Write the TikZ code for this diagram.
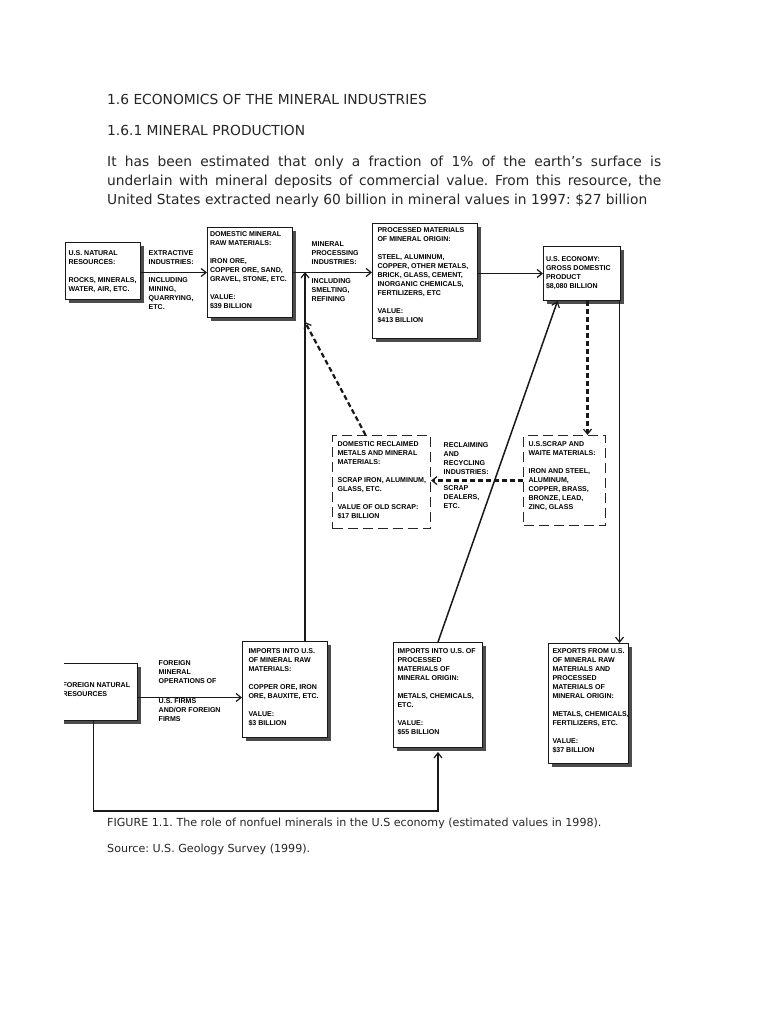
\documentclass[tikz,border=0pt]{standalone}
\usepackage{fontspec}
\setmainfont{DejaVu Sans}
\newfontfamily\dgmf{Liberation Sans}
\usetikzlibrary{arrows.meta,shadows}
\frenchspacing
\newcommand{\dgm}{\dgmf\bfseries\fontsize{7.05}{9}\selectfont}
\newcommand{\R}[1]{\hbox to 0pt{#1\hss}}
\newcommand{\Bl}{\hbox{}}
\newcommand{\tb}[3]{\vtop to #2{\dgm #3\vfil\hbox to #1{}}}
\newcommand{\lb}[1]{\vtop{\dgm #1}}
\tikzset{
  sbox/.style={draw=black!90, line width=1pt, fill=white, anchor=north west,
    drop shadow={shadow xshift=3.5pt, shadow yshift=-3.5pt, fill=black!70, opacity=1}},
  dbox/.style={draw=black!85, line width=1.1pt, fill=white, anchor=north west,
    dash pattern=on 10pt off 5pt},
  lbl/.style={anchor=north west, inner sep=0pt},
  txt/.style={anchor=base west, inner sep=0pt, font=\fontsize{13.8}{16}\selectfont, text=black!85},
  captxt/.style={anchor=base west, inner sep=0pt, font=\fontsize{11.1}{13}\selectfont, text=black!85},
  arr/.style={draw=black!90, line width=1.5pt, -{Straight Barb[length=5pt,width=8pt,line width=1.2pt]}},
  darr/.style={draw=black!90, line width=2.2pt, dash pattern=on 5pt off 3pt,
    -{Straight Barb[length=5pt,width=8pt,line width=1.2pt]}}
}
\begin{document}
\begin{tikzpicture}[x=1pt,y=-1pt]
\fill[white] (0,0) rectangle (768,1024);
\useasboundingbox (0,0) rectangle (768,1024);

% page text
\node[txt] (h1) at (107,105) {1.6 ECONOMICS OF THE MINERAL INDUSTRIES};
\node[txt] (h2) at (107,136) {1.6.1 MINERAL PRODUCTION};
\node[txt] (p1) at (107,167) {\makebox[554pt][s]{It has been estimated that only a fraction of 1\% of the earth’s surface is}};
\node[txt] (p2) at (107,186) {\makebox[554pt][s]{underlain with mineral deposits of commercial value. From this resource, the}};
\node[txt] (p3) at (107,205) {United States extracted nearly 60 billion in mineral values in 1997: \$27 billion};
\node[captxt] (c1) at (107,826) {FIGURE 1.1. The role of nonfuel minerals in the U.S economy (estimated values in 1998).};
\node[captxt] (c2) at (107,852) {Source: U.S. Geology Survey (1999).};

% boxes
\node[sbox, inner xsep=3pt, inner ysep=8.5pt] (usnat) at (65,242)
  {\tb{69pt}{40pt}{\R{U.S. NATURAL}\R{RESOURCES:}\Bl\R{ROCKS, MINERALS,}\R{WATER, AIR, ETC.}}};
\node[sbox, inner xsep=2.5pt, inner ysep=4.5pt] (dom) at (207,227)
  {\tb{80pt}{81pt}{\R{DOMESTIC MINERAL}\R{RAW MATERIALS:}\Bl\R{IRON ORE,}\R{COPPER ORE, SAND,}\R{GRAVEL, STONE, ETC.}\Bl\R{VALUE:}\R{\$39 BILLION}}};
\node[sbox, inner xsep=5pt, inner ysep=4.5pt] (proc) at (372,223)
  {\tb{95pt}{106pt}{\R{PROCESSED MATERIALS}\R{OF MINERAL ORIGIN:}\Bl\R{STEEL, ALUMINUM,}\R{COPPER, OTHER METALS,}\R{BRICK, GLASS, CEMENT,}\R{INORGANIC CHEMICALS,}\R{FERTILIZERS, ETC}\Bl\R{VALUE:}\R{\$413 BILLION}}};
\node[sbox, inner xsep=2.5pt, inner ysep=10.5pt] (gdp) at (543,246)
  {\tb{72pt}{33pt}{\R{U.S. ECONOMY:}\R{GROSS DOMESTIC}\R{PRODUCT}\R{\$8,080 BILLION}}};
\node[dbox, inner xsep=5pt, inner ysep=6.5pt] (recl) at (332,435)
  {\tb{88pt}{80pt}{\R{DOMESTIC RECLAIMED}\R{METALS AND MINERAL}\R{MATERIALS:}\Bl\R{SCRAP IRON, ALUMINUM,}\R{GLASS, ETC.}\Bl\R{VALUE OF OLD SCRAP:}\R{\$17 BILLION}}};
\node[dbox, inner xsep=5pt, inner ysep=6.5pt] (scrap) at (523,435)
  {\tb{72pt}{77pt}{\R{U.S.SCRAP AND}\R{WAITE MATERIALS:}\Bl\R{IRON AND STEEL,}\R{ALUMINUM,}\R{COPPER, BRASS,}\R{BRONZE, LEAD,}\R{ZINC, GLASS}}};
\begin{scope}
\clip (64,650) rectangle (160,740);
\node[sbox, inner xsep=4pt, inner ysep=19.5pt] (foreign) at (58,663)
  {\tb{71pt}{18pt}{\R{FOREIGN NATURAL}\R{RESOURCES}}};
\end{scope}
\node[sbox, inner xsep=6pt, inner ysep=7.5pt] (impraw) at (242,641)
  {\tb{73pt}{81pt}{\R{IMPORTS INTO U.S.}\R{OF MINERAL RAW}\R{MATERIALS:}\Bl\R{COPPER ORE, IRON}\R{ORE, BAUXITE, ETC.}\Bl\R{VALUE:}\R{\$3 BILLION}}};
\node[sbox, inner xsep=4pt, inner ysep=6.5pt] (impproc) at (393,642)
  {\tb{81pt}{92pt}{\R{IMPORTS INTO U.S. OF}\R{PROCESSED}\R{MATERIALS OF}\R{MINERAL ORIGIN:}\Bl\R{METALS, CHEMICALS,}\R{ETC.}\Bl\R{VALUE:}\R{\$55 BILLION}}};
\node[sbox, inner xsep=4pt, inner ysep=5.5pt] (exports) at (548,643)
  {\tb{72pt}{109pt}{\R{EXPORTS FROM U.S.}\R{OF MINERAL RAW}\R{MATERIALS AND}\R{PROCESSED}\R{MATERIALS OF}\R{MINERAL ORIGIN:}\Bl\R{METALS, CHEMICALS,}\R{FERTILIZERS, ETC.}\Bl\R{VALUE:}\R{\$37 BILLION}}};

% connector labels
\node[lbl] (extA) at (148,250.5) {\lb{\R{EXTRACTIVE}\R{INDUSTRIES:}}};
\node[lbl] (extB) at (148,277.5) {\lb{\R{INCLUDING}\R{MINING,}\R{QUARRYING,}\R{ETC.}}};
\node[lbl] (mpA) at (311,241.5) {\lb{\R{MINERAL}\R{PROCESSING}\R{INDUSTRIES:}}};
\node[lbl] (mpB) at (311,278.5) {\lb{\R{INCLUDING}\R{SMELTING,}\R{REFINING}}};
\node[lbl] (rcA) at (443,442.5) {\lb{\R{RECLAIMING}\R{AND}\R{RECYCLING}\R{INDUSTRIES:}}};
\node[lbl] (rcB) at (443,485.5) {\lb{\R{SCRAP}\R{DEALERS,}\R{ETC.}}};
\node[lbl] (fmA) at (158,660.5) {\lb{\R{FOREIGN}\R{MINERAL}\R{OPERATIONS OF}}};
\node[lbl] (fmB) at (158,698.5) {\lb{\R{U.S. FIRMS}\R{AND/OR FOREIGN}\R{FIRMS}}};

% connectors
\coordinate (j1) at (305,272);
\coordinate (j2) at (305,322);
\coordinate (lp) at (0,811);
\draw[arr] (dom.west -| usnat.east) -- (dom.west);
\draw[arr] (dom.east) -- (dom.east -| proc.west);
\draw[arr] (gdp.west -| proc.east) -- (gdp.west);
\draw[arr] (impraw.north -| j1) -- (j1);
\draw[darr] ([xshift=-16pt]recl.north) -- (j2);
\draw[darr] ([xshift=5.5pt]gdp.south) -- ([xshift=5.5pt]gdp.south |- scrap.north);
\draw[arr] ([xshift=-1.5pt]gdp.south east) -- ([xshift=-1.5pt]gdp.south east |- exports.north);
\draw[arr] (impproc.north) -- ([xshift=-24.5pt]gdp.south);
\draw[darr] (scrap.west) -- (scrap.west -| recl.east);
\draw[arr] ([yshift=-5.5pt]foreign.east) -- ([yshift=-5.5pt]foreign.east -| impraw.west);
\draw[arr] ([xshift=-4.5pt]foreign.south) |- (lp -| impproc.south) -- ([yshift=-4pt]impproc.south);
\end{tikzpicture}
\end{document}
